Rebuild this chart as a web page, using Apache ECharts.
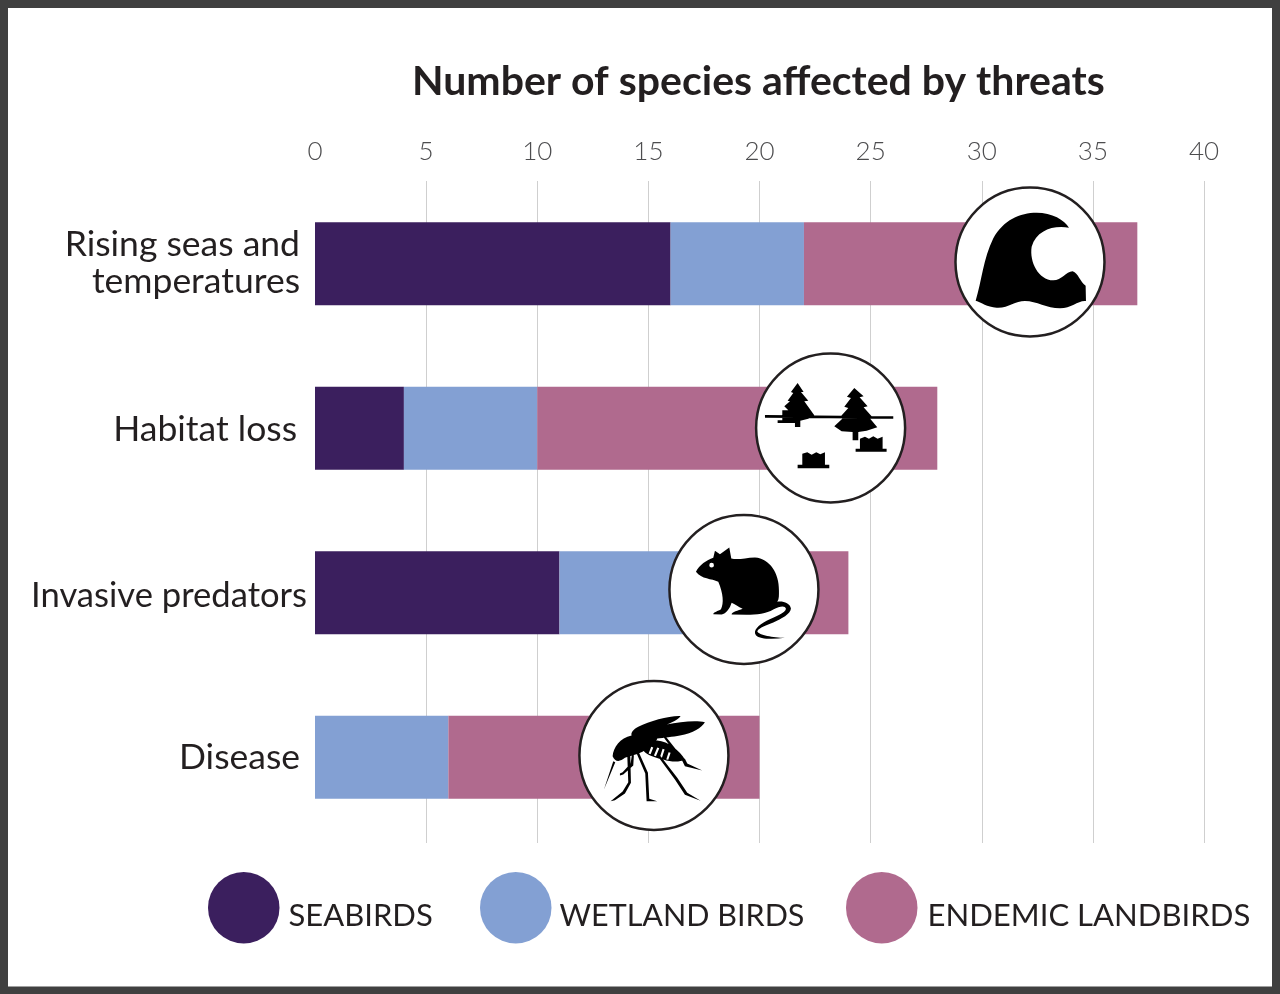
<!DOCTYPE html>
<html>
<head>
<meta charset="utf-8">
<style>html,body{margin:0;padding:0;background:#fff}#chart{width:1280px;height:994px}</style>
<script src="https://cdn.jsdelivr.net/npm/echarts@6/dist/echarts.min.js"></script>
</head>
<body>
<div id="chart"></div>
<script>
// Threat categories, top to bottom
const threats = ['Rising seas and\ntemperatures', 'Habitat loss', 'Invasive predators', 'Disease'];
// Species counts per bird group
const seabirds = [16, 4, 11, 0];
const wetlandBirds = [6, 6, 6, 6];
const endemicLandbirds = [15, 18, 7, 14];
// Where each threat badge sits along the count axis
const badgeAt = [32.17, 23.2, 19.3, 15.25];

const INK = '#231f20';
const PURPLE = '#3b1f5e';
const BLUE = '#83a0d3';
const PINK = '#b06a8e';

// Silhouettes, each drawn in a square frame centred on its badge; the leading
// zero-length subpaths pin the frame so every icon scales the same way.
const wave = 'path://M40 31L40 31M500 491L500 491M107 377C125 320 130 250 160 190C190 135 240 113 290 113C335 113 375 135 387 158C340 150 290 165 275 215C268 260 295 315 340 316C365 316 378 290 398 289C415 295 420 320 437 332L438 378C415 375 395 400 360 400C320 400 290 378 255 378C225 378 205 400 170 398C140 396 125 382 107 377Z';
const forest = 'path://M27 20L27 20M487 480L487 480'
  + 'M60 211L445 215L445 222L60 219Z'
  + 'M158 115L176 142L168 142L190 168L178 170L208 212L190 222L166 228L166 247L150 247L150 235L98 235L98 227L112 227L112 197L130 197L118 185L135 170L128 168L145 145L138 142Z'
  + 'M328 130L356 155L344 158L368 185L356 188L380 215L372 218L397 248L365 258L340 262L340 287L323 287L323 262L290 260L268 245L292 222L285 218L310 190L298 186L318 160L306 156Z'
  + 'M345 282L360 276L372 282L385 275L398 282L413 276L413 312L425 312L425 321L332 321L332 312L345 312Z'
  + 'M172 327L187 323L200 330L214 323L226 329L240 323L240 360L253 360L253 371L158 371L158 360L172 360Z';
const rat = 'path://M22 8L22 8M482 468L482 468'
  + 'M108 185C118 165 140 150 160 143L165 122L180 132L208 112L214 145C235 150 255 143 285 142C330 145 358 190 357 240C357 255 358 265 352 275C368 272 390 278 393 295C392 312 365 325 340 337C320 346 298 352 292 363C296 375 340 382 375 383C340 388 300 388 288 375C278 362 295 345 320 332C345 320 378 308 378 296C375 285 360 288 340 298C320 310 290 314 260 314L215 313C215 305 235 302 248 296C235 290 225 282 215 278C210 295 198 312 185 313L160 312C160 305 175 303 183 297C192 280 190 250 175 215C155 205 125 208 108 185Z'
  + 'M148 165A7 7 0 0 0 162 165A7 7 0 0 0 148 165Z';
const mosquito = 'path://M22 8L22 8M482 468L482 468'
  + 'M128 240C130 215 150 185 185 178C182 170 190 160 205 152C240 135 300 118 332 120C325 128 315 135 290 145C330 136 380 132 405 138C395 155 370 170 330 178C310 182 280 185 262 187C258 200 240 215 225 222C205 235 190 235 165 245C150 258 135 258 128 240Z'
  + 'M235 200L262 193C295 195 330 225 345 250C330 258 305 258 280 250C255 245 230 235 222 225Z'
  + 'M244 212L236 232L242 234L250 214Z'
  + 'M262 214L252 238L258 240L268 216Z'
  + 'M278 218L270 243L276 245L284 220Z'
  + 'M296 228L289 250L295 251L302 230Z'
  + 'M130 255L136 258L102 340Z'
  + 'M172 238L181 238L183 320L165 352L135 372L122 375L158 346L175 318Z'
  + 'M186 235L192 235L190 268L160 295L150 298L150 292L158 288L182 262Z'
  + 'M196 222L204 222L234 290L238 368L262 375L230 375L226 292Z'
  + 'M262 238L272 240L322 305L352 350L392 374L345 356L315 310Z'
  + 'M335 250L345 248L352 262L397 283L345 270Z'
  + 'M280 182L288 182L320 222L312 225Z';

const icons = [wave, forest, rat, mosquito];
const iconYOffset = [-1.75, -0.25, -3.25, -1.75];

const labelBase = { fontSize: 35.5, fontFamily: 'Lato', color: INK, lineHeight: 37, align: 'right' };
const labelRich = {
  a: { ...labelBase, padding: [0, 7, 2, 0] },
  b: { ...labelBase, padding: [3, 10, 0, 0] },
  c: { ...labelBase, fontSize: 34.6, padding: [6, 0, 0, 0] },
  d: { ...labelBase, padding: [0, 7, 0, 0] }
};
const labelStyleKeys = ['a', 'b', 'c', 'd'];

function legendAt(name, left, size, gap) {
  return {
    data: [name],
    left,
    top: 872,
    padding: 0,
    itemWidth: 71.5,
    itemHeight: 71.5,
    icon: 'circle',
    selectedMode: false,
    formatter: '{t|{name}}',
    textStyle: {
      padding: [0, 0, 0, gap],
      rich: { t: { fontSize: size, fontFamily: 'Lato', color: INK, padding: [17, 0, 0, 0] } }
    }
  };
}

function stacked(name, values, color) {
  return {
    name,
    type: 'bar',
    stack: 'threats',
    data: values,
    barWidth: 83,
    itemStyle: { color },
    z: 2
  };
}

const chart = echarts.init(document.getElementById('chart'), null, { renderer: 'canvas' });
chart.setOption({
  animation: false,
  backgroundColor: '#ffffff',
  title: {
    text: 'Number of species affected by threats',
    left: 412,
    top: 61,
    padding: 0,
    textStyle: { fontSize: 41, fontWeight: 700, fontFamily: 'Lato', color: INK }
  },
  legend: [
    legendAt('SEABIRDS', 208, 31, 4),
    legendAt('WETLAND BIRDS', 480, 30.5, 3),
    legendAt('ENDEMIC LANDBIRDS', 846, 31.1, 5)
  ],
  grid: [
    { left: 315, width: 889, top: 181.5, height: 658 },
    { left: 315, width: 889, top: 181, height: 662 }
  ],
  xAxis: [
    { type: 'value', gridIndex: 0, show: false, min: 0, max: 40, interval: 5 },
    {
      type: 'value',
      gridIndex: 1,
      position: 'top',
      min: 0,
      max: 40,
      interval: 5,
      axisLine: { show: false },
      axisTick: { show: false },
      axisLabel: { fontSize: 26, fontFamily: 'Lato', fontWeight: 300, color: '#4d4d4f', margin: 16 },
      splitLine: { show: true, showMinLine: false, lineStyle: { color: '#cfcfcf', width: 1 } }
    }
  ],
  yAxis: [
    {
      type: 'category',
      gridIndex: 0,
      inverse: true,
      data: threats,
      axisLine: { show: false },
      axisTick: { show: false },
      axisLabel: {
        margin: 8,
        formatter(value, i) {
          const key = labelStyleKeys[i];
          return value.split('\n').map(line => `{${key}|${line}}`).join('\n');
        },
        rich: labelRich
      }
    },
    { type: 'value', gridIndex: 1, show: false, min: 0, max: 1 }
  ],
  series: [
    stacked('SEABIRDS', seabirds, PURPLE),
    stacked('WETLAND BIRDS', wetlandBirds, BLUE),
    stacked('ENDEMIC LANDBIRDS', endemicLandbirds, PINK),
    {
      name: 'badge',
      type: 'scatter',
      z: 5,
      silent: true,
      symbol: 'circle',
      symbolSize: 149,
      itemStyle: { color: '#ffffff', borderColor: INK, borderWidth: 2.5, opacity: 1 },
      data: badgeAt.map((x, i) => ({ value: [x, threats[i]], symbolOffset: [0, iconYOffset[i]] }))
    },
    {
      name: 'icon',
      type: 'scatter',
      z: 6,
      silent: true,
      symbolSize: 153.3,
      itemStyle: { color: '#000000', opacity: 1 },
      data: badgeAt.map((x, i) => ({ value: [x, threats[i]], symbol: icons[i], symbolOffset: [0, iconYOffset[i]] }))
    }
  ],
  graphic: [{
    type: 'rect',
    silent: true,
    z: 100,
    shape: { x: 4, y: 4, width: 1272, height: 986.5 },
    style: { fill: 'none', stroke: '#404040', lineWidth: 8 }
  }]
});
</script>
</body>
</html>
